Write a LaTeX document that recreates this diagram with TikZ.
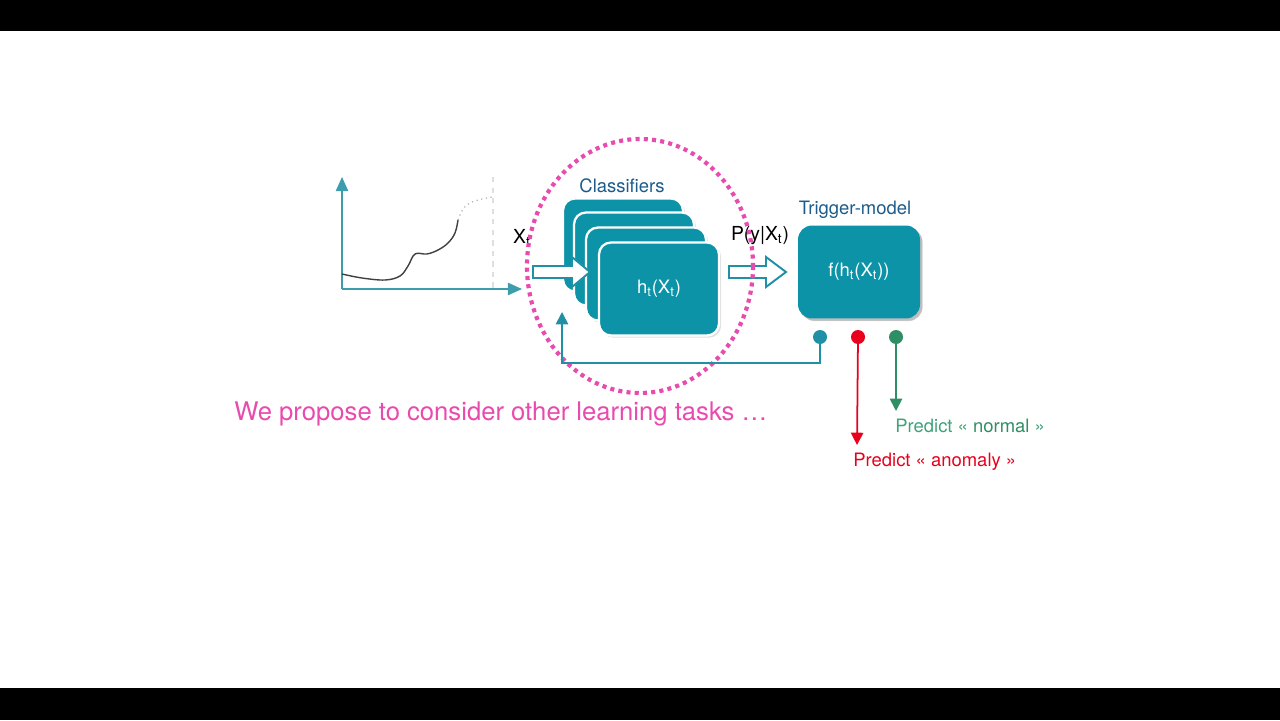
\documentclass[tikz,border=0pt]{standalone}
\usepackage{fontspec}
\setmainfont{TeX Gyre Heros}
\usetikzlibrary{arrows.meta,shadows,calc}
\definecolor{tealbox}{HTML}{0C93A8}
\definecolor{tealline}{HTML}{2090A6}
\definecolor{axisc}{HTML}{3D9DAD}
\definecolor{darkblue}{HTML}{1B5C8C}
\definecolor{pinkc}{HTML}{E84BAE}
\definecolor{redc}{HTML}{E8001C}
\definecolor{greenc}{HTML}{2F8F64}
\definecolor{greenl}{HTML}{3FA37A}
\begin{document}
\begin{tikzpicture}[x=0.02cm,y=-0.02cm,
  clsbox/.style={draw=white,line width=1.3pt,fill=tealbox,rounded corners=6.8pt,
     minimum width=2.4cm,minimum height=1.86cm,inner sep=0pt,text=white,font=\fontsize{10.5}{12}\selectfont,
     drop shadow={opacity=0.25,shadow xshift=1.2pt,shadow yshift=-1.2pt}},
  hollow/.style={draw=tealline,line width=1.1pt,fill=white,line join=miter},
  lbl/.style={inner sep=0pt,font=\fontsize{10.5}{12}\selectfont},
  dotn/.style={circle,inner sep=0pt,minimum size=0.28cm},
  tip/.style={-{Triangle[length=7pt,width=7pt]}}
]
\useasboundingbox (0,0) rectangle (1280,720);
\fill[black] (0,0) rectangle (1280,31);
\fill[black] (0,688) rectangle (1280,720);
% chart
\coordinate (org) at (342,289);
\coordinate (ytop) at (342,177);
\coordinate (xend) at (522,289);
\draw[axisc,line width=0.8pt,-{Triangle[length=8pt,width=7pt]}] (org) -- (ytop);
\draw[axisc,line width=0.8pt,-{Triangle[length=8pt,width=7pt]}] (org) -- (xend);
\draw[gray!25,dashed,line width=0.6pt] (493,177) -- (493,288);
\draw[black!75,line width=0.8pt] plot[smooth,tension=0.6] coordinates {(342,274) (362,278) (385,280) (400,276) (408,266) (415,254) (427,254) (438,250) (448,243) (455,233) (458,220)};
\draw[gray!60,dotted,line width=0.7pt] plot[smooth,tension=0.6] coordinates {(458,220) (463,209) (470,203) (482,199) (493,197)};
\node[lbl,font=\fontsize{11}{12}\selectfont] (xt) at (522,238) {X\textsubscript{t}};
% classifiers
\node[clsbox] (c1) at (623,245) {};
\node[clsbox] (c2) at (634,259) {};
\node[clsbox] (c3) at (646,274) {};
\node[clsbox] (c4) at (659,289) {h\textsubscript{t}(X\textsubscript{t})};
\node[lbl,text=darkblue] (clab) at (622,186) {Classifiers};
% hollow arrows
\draw[hollow] (533,266) -- (572,266) -- (572,257) -- (590,272) -- (572,287) -- (572,278) -- (533,278) -- cycle;
\draw[hollow] (729,266) -- (766,266) -- (766,257) -- (786,272) -- (766,287) -- (766,278) -- (729,278) -- cycle;
\node[lbl,font=\fontsize{11}{12}\selectfont] (pyx) at (760,236) {P(y|X\textsubscript{t})};
% trigger
\node[clsbox,draw=none,minimum width=2.44cm,rounded corners=8pt,
  drop shadow={opacity=0.35,shadow xshift=1.5pt,shadow yshift=-1.5pt}] (trig) at (859,272) {f(h\textsubscript{t}(X\textsubscript{t}))};
\node[lbl,text=darkblue] (tlab) at (855,210) {Trigger-model};
% pink ellipse
\draw[pinkc,line width=2.4pt,dash pattern=on 2.3pt off 2.4pt] (640,266) ellipse [x radius=113, y radius=127];
% dots and arrows
\node[dotn,fill=tealline] (dt) at (820,337) {};
\node[dotn,fill=redc] (dr) at (858,337) {};
\node[dotn,fill=greenc] (dg) at (896,337) {};
\coordinate (fb) at (562,312);
\coordinate (re) at (857,445);
\coordinate (ge) at (896,411);
\draw[tealline,line width=1pt,tip] (dt.center) -- (820,363) -| (fb);
\draw[redc,line width=1pt,tip] (dr.center) -- (re);
\draw[greenc,line width=1pt,tip] (dg.center) -- (ge);
\node[lbl,anchor=west,text=greenl] (pn) at (895,426) {Predict « \textcolor{greenc}{normal} »};
\node[lbl,anchor=west,text=redc] (pa) at (853,462) {Predict « anomaly »};
\node[lbl,anchor=west,text=pinkc,font=\fontsize{14.6}{16}\selectfont] (prop) at (234,414) {We propose to consider other learning tasks …};
\end{tikzpicture}
\end{document}
